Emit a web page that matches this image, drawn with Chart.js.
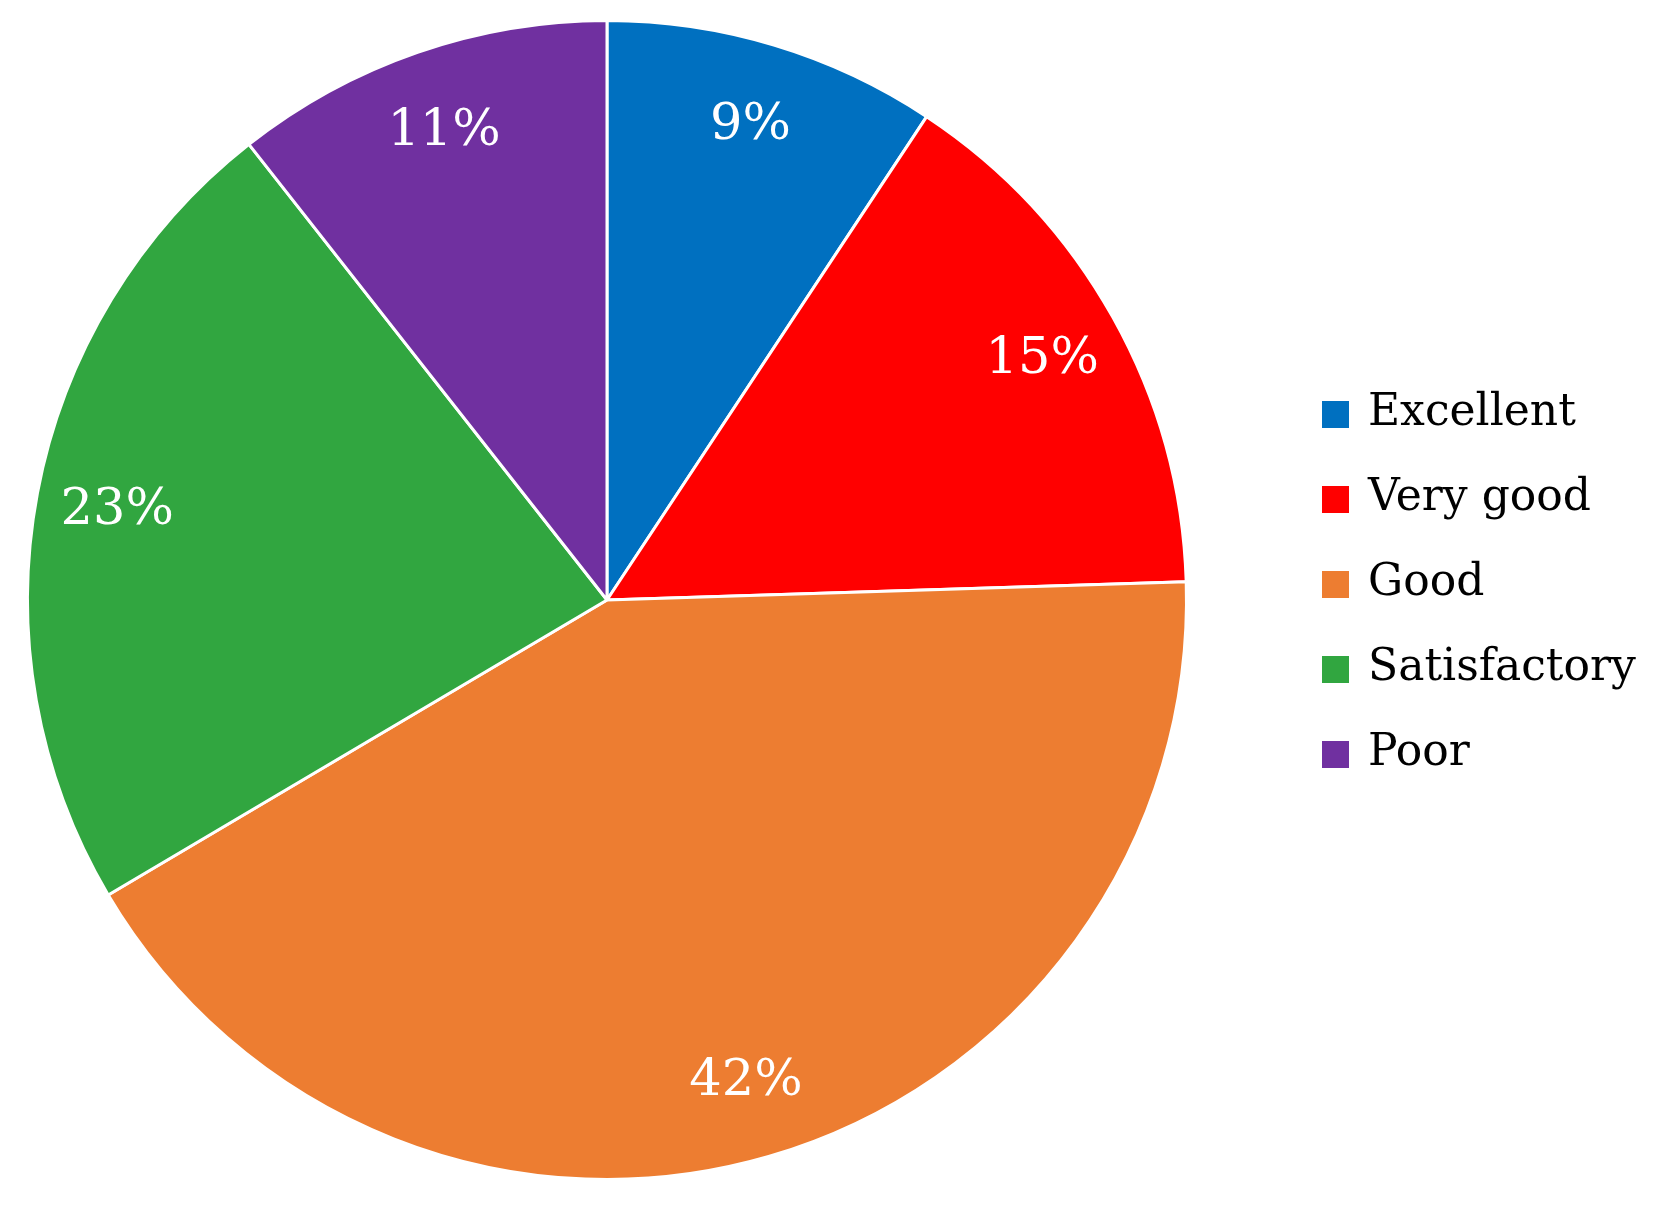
<!DOCTYPE html>
<html>
<head>
<meta charset="utf-8">
<script src="https://cdn.jsdelivr.net/npm/chart.js@4.4.1/dist/chart.umd.min.js"></script>
<style>
  html, body { margin: 0; padding: 0; background: #fff; }
  #wrap { width: 1653px; height: 1206px; position: relative; }
</style>
</head>
<body>
<div id="wrap"><canvas id="pieChart"></canvas></div>
<script>
const categories = ["Excellent", "Very good", "Good", "Satisfactory", "Poor"];
// slice shares as measured from the slice angles; labels show them rounded
const sliceShares = [9.3, 15.2, 42.0, 22.9, 10.6];
const sliceColors = ["#0070C0", "#FF0000", "#ED7D31", "#31A640", "#7030A0"];

const FONT = "'DejaVu Serif', 'Liberation Serif', serif";

// white percentage labels inside each slice
const sliceLabels = {
  id: "sliceLabels",
  afterDatasetsDraw(chart) {
    const ctx = chart.ctx;
    const meta = chart.getDatasetMeta(0);
    ctx.save();
    ctx.fillStyle = "#ffffff";
    ctx.font = "51px " + FONT;
    ctx.textAlign = "center";
    ctx.textBaseline = "middle";
    meta.data.forEach((arc, i) => {
      const mid = (arc.startAngle + arc.endAngle) / 2;
      const r = arc.outerRadius * 0.86;
      const x = arc.x + Math.cos(mid) * r;
      const y = arc.y + Math.sin(mid) * r;
      ctx.fillText(Math.round(sliceShares[i]) + "%", x, y + 3);
    });
    ctx.restore();
  },
};

// legend on the right, drawn from the chart's own data
const sideLegend = {
  id: "sideLegend",
  afterDraw(chart) {
    const ctx = chart.ctx;
    const ds = chart.data.datasets[0];
    ctx.save();
    ctx.font = "44px " + FONT;
    ctx.textBaseline = "middle";
    ctx.textAlign = "left";
    chart.data.labels.forEach((label, i) => {
      const y = 414 + i * 85;
      ctx.fillStyle = ds.backgroundColor[i];
      ctx.fillRect(1322, y - 13, 27, 27);
      ctx.fillStyle = "#000000";
      ctx.fillText(label, 1368, y);
    });
    ctx.restore();
  },
};

new Chart(document.getElementById("pieChart").getContext("2d"), {
  type: "pie",
  data: {
    labels: categories,
    datasets: [
      {
        data: sliceShares,
        backgroundColor: sliceColors,
        borderColor: "#ffffff",
        borderWidth: 3,
      },
    ],
  },
  options: {
    responsive: true,
    maintainAspectRatio: false,
    animation: false,
    layout: {
      padding: { left: 26, right: 465, top: 19, bottom: 25 },
    },
    plugins: {
      legend: { display: false },
      tooltip: { enabled: false },
    },
  },
  plugins: [sliceLabels, sideLegend],
});
</script>
</body>
</html>
